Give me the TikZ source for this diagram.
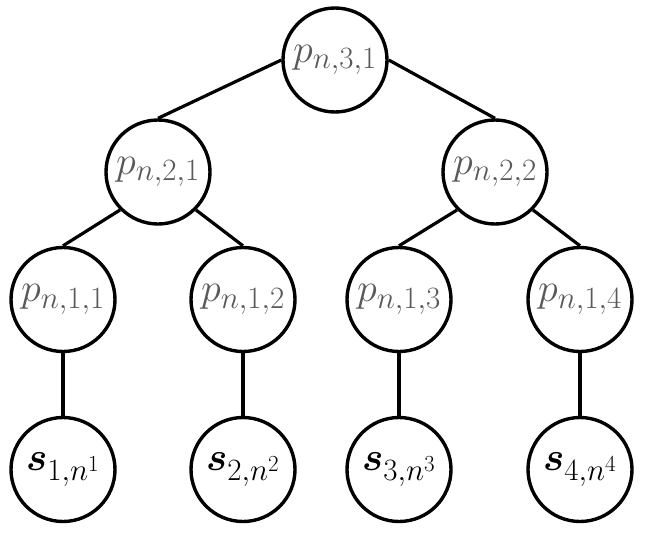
\RequirePackage{fix-cm}
\documentclass[tikz,border=0pt]{standalone}
\usepackage{amsmath}
\usetikzlibrary{positioning}
\DeclareMathSizes{40}{40}{31}{23}

\begin{document}
\begin{tikzpicture}[x=1pt,y=1pt,on grid,line width=3.2pt,
    pnode/.style={circle,draw,line width=3.4pt,minimum size=104pt,inner sep=0pt,text=black!65},
    snode/.style={pnode,text=black},
    every node/.style={font=\fontsize{40}{46}\selectfont}]
    \useasboundingbox (0,0) rectangle (648,-533);
    \node[pnode] (p31) at (335,-60)                   {$p_{n,3,1}$};
    \node[pnode] (p21) [below left=112pt and 177pt of p31]  {$p_{n,2,1}$};
    \node[pnode] (p22) [below right=112pt and 160pt of p31] {$p_{n,2,2}$};
    \node[pnode] (p11) [below left=127.5pt and 95pt of p21]  {$p_{n,1,1}$};
    \node[pnode] (p12) [below right=127.5pt and 85pt of p21] {$p_{n,1,2}$};
    \node[pnode] (p13) [below left=127.5pt and 96pt of p22]  {$p_{n,1,3}$};
    \node[pnode] (p14) [below right=127.5pt and 85pt of p22] {$p_{n,1,4}$};
    \node[snode] (s1) [below=170pt of p11] {$\boldsymbol{s}_{1,n^1}$};
    \node[snode] (s2) [below=170pt of p12] {$\boldsymbol{s}_{2,n^2}$};
    \node[snode] (s3) [below=170pt of p13] {$\boldsymbol{s}_{3,n^3}$};
    \node[snode] (s4) [below=170pt of p14] {$\boldsymbol{s}_{4,n^4}$};

    \path (p31.west)       edge (p21.north)
          (p31.east)       edge (p22.north)
          (p21.south west) edge (p11.north)
          (p21.south east) edge (p12.north)
          (p22.south west) edge (p13.north)
          (p22.south east) edge (p14.north)
          (p11.south)      edge (s1.north)
          (p12.south)      edge (s2.north)
          (p13.south)      edge (s3.north)
          (p14.south)      edge (s4.north);
\end{tikzpicture}
\end{document}
